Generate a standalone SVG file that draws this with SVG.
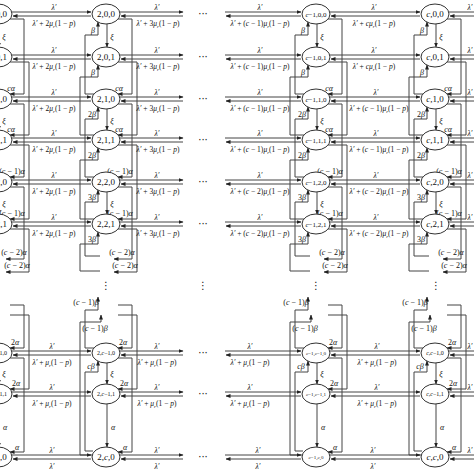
<svg xmlns="http://www.w3.org/2000/svg" xmlns:xlink="http://www.w3.org/1999/xlink" width="474" height="474" viewBox="0 0 474 474">
<defs>
<marker id="ah" viewBox="0 0 10 10" refX="9" refY="5" markerWidth="5" markerHeight="5" markerUnits="userSpaceOnUse" orient="auto"><path d="M0,1L10,5L0,9z" fill="#222"/></marker>
<style>
.c{fill:none;stroke:#444;stroke-width:1}
.a{marker-end:url(#ah)}
.n ellipse{fill:#fff;stroke:#333;stroke-width:1}
text{font-family:"Liberation Serif","Times New Roman",serif;fill:#111}
.t{font-size:9px;text-anchor:middle}
.t7{font-size:7px}
.t6{font-size:6px}
.t5{font-size:5px}
.l{font-size:7.5px;text-anchor:middle}
.m{font-size:8px;text-anchor:middle}
.i{font-style:italic}
.s{font-size:5px;font-style:italic}
.d{font-size:10px;text-anchor:middle;font-family:"DejaVu Sans",sans-serif}
</style>
<text id="lp" class="l"><tspan class="i">λ′</tspan></text>
<text id="L2" class="l"><tspan class="i">λ′</tspan> + 2<tspan class="i">μ</tspan><tspan class="s" dy="1.5">r</tspan><tspan dy="-1.5">(1 − <tspan class="i">p</tspan>)</tspan></text>
<text id="L3" class="l"><tspan class="i">λ′</tspan> + 3<tspan class="i">μ</tspan><tspan class="s" dy="1.5">r</tspan><tspan dy="-1.5">(1 − <tspan class="i">p</tspan>)</tspan></text>
<text id="Lc" class="l"><tspan class="i">λ′</tspan> + <tspan class="i">cμ</tspan><tspan class="s" dy="1.5">r</tspan><tspan dy="-1.5">(1 − <tspan class="i">p</tspan>)</tspan></text>
<text id="Lc1" class="l"><tspan class="i">λ′</tspan> + (<tspan class="i">c</tspan> − 1)<tspan class="i">μ</tspan><tspan class="s" dy="1.5">r</tspan><tspan dy="-1.5">(1 − <tspan class="i">p</tspan>)</tspan></text>
<text id="Lc2" class="l"><tspan class="i">λ′</tspan> + (<tspan class="i">c</tspan> − 2)<tspan class="i">μ</tspan><tspan class="s" dy="1.5">r</tspan><tspan dy="-1.5">(1 − <tspan class="i">p</tspan>)</tspan></text>
<text id="L1" class="l"><tspan class="i">λ′</tspan> + <tspan class="i">μ</tspan><tspan class="s" dy="1.5">r</tspan><tspan dy="-1.5">(1 − <tspan class="i">p</tspan>)</tspan></text>
<g id="rl">
<path class="c a" d="M12,-2H91"/>
<path class="c a" d="M91,2H13"/>
<path class="c a" d="M120,-2H183"/>
<path class="c a" d="M183,2H121"/>
<path class="c a" d="M225,-2H301"/>
<path class="c a" d="M301,2H226"/>
<path class="c a" d="M330,-2H420"/>
<path class="c a" d="M420,2H331"/>
<path class="c" d="M449,-2H476"/>
<path class="c a" d="M476,2H450"/>
<text class="d" x="203" y="3">···</text>
</g>
<g id="tc">
<path class="c a" d="M1,24V47"/>
<path class="c a" d="M1,109V130"/>
<path class="c a" d="M1,192V214"/>
<path class="c a" d="M-12,94H-21V35H-8V22"/>
<path class="c a" d="M-12,135H-26V77H-8V65"/>
<path class="c a" d="M-12,177H-21V119H-8V107"/>
<path class="c a" d="M-12,219H-26V160H-8V148"/>
<path class="c a" d="M-6,256H-21V202H-8V190"/>
<path class="c a" d="M-6,271H-26V244H-8V232"/>
<path class="c a" d="M12,19H26V94H12"/>
<path class="c a" d="M12,62H31V135H12"/>
<path class="c a" d="M12,104H26V177H12"/>
<path class="c a" d="M12,145H31V219H12"/>
<path class="c a" d="M12,187H26V259H8"/>
<path class="c a" d="M12,229H31V272H8"/>
<text class="m i" x="6" y="40">ξ</text>
<text class="m i" x="6" y="124">ξ</text>
<text class="m i" x="6" y="207">ξ</text>
<text class="m i" x="-13" y="33">β</text>
<text class="m i" x="-13" y="75">β</text>
<text class="m" x="-14" y="117">2<tspan class="i">β</tspan></text>
<text class="m" x="-14" y="158">2<tspan class="i">β</tspan></text>
<text class="m" x="-14" y="200">3<tspan class="i">β</tspan></text>
<text class="m" x="-14" y="242">3<tspan class="i">β</tspan></text>
<text class="m i" x="13" y="91">cα</text>
<text class="m i" x="13" y="132">cα</text>
<text class="m t7" x="14" y="174">(<tspan class="i">c</tspan> − 1)<tspan class="i">α</tspan></text>
<text class="m t7" x="14" y="216">(<tspan class="i">c</tspan> − 1)<tspan class="i">α</tspan></text>
<text class="m t7" x="16" y="255">(<tspan class="i">c</tspan> − 2)<tspan class="i">α</tspan></text>
<text class="m t7" x="19" y="268">(<tspan class="i">c</tspan> − 2)<tspan class="i">α</tspan></text>
</g>
<g id="bc">
<path class="c a" d="M12,305H26V348H12"/>
<path class="c a" d="M12,315H31V389H12"/>
<path class="c a" d="M12,358H26V452H12"/>
<path class="c a" d="M1,363V384"/>
<path class="c a" d="M1,404V447"/>
<path class="c a" d="M-12,348H-21V310H-8V297"/>
<path class="c a" d="M-13,455H-26V322H-5V315"/>
<path class="c a" d="M-13,451H-21V372H-8V361"/>
<text class="m" x="17" y="345">2<tspan class="i">α</tspan></text>
<text class="m" x="18" y="386">2<tspan class="i">α</tspan></text>
<text class="m i" x="19" y="450">α</text>
<text class="m i" x="6" y="377">ξ</text>
<text class="m i" x="7" y="430">α</text>
<text class="m t7" x="-20" y="305">(<tspan class="i">c</tspan> − 1)<tspan class="i">β</tspan></text>
<text class="m t7" x="-11" y="331">(<tspan class="i">c</tspan> − 1)<tspan class="i">β</tspan></text>
<text class="m i" x="-15" y="369">cβ</text>
</g>
</defs>

<g id="connectors">
<use xlink:href="#tc" href="#tc" x="-2"/>
<use xlink:href="#tc" href="#tc" x="106"/>
<use xlink:href="#tc" href="#tc" x="316"/>
<use xlink:href="#tc" href="#tc" x="435"/>
<use xlink:href="#bc" href="#bc" x="-2"/>
<use xlink:href="#bc" href="#bc" x="106"/>
<use xlink:href="#bc" href="#bc" x="316"/>
<use xlink:href="#bc" href="#bc" x="435"/>
<use xlink:href="#rl" href="#rl" y="14"/>
<use xlink:href="#rl" href="#rl" y="57"/>
<use xlink:href="#rl" href="#rl" y="99"/>
<use xlink:href="#rl" href="#rl" y="140"/>
<use xlink:href="#rl" href="#rl" y="182"/>
<use xlink:href="#rl" href="#rl" y="224"/>
<use xlink:href="#rl" href="#rl" y="353"/>
<use xlink:href="#rl" href="#rl" y="394"/>
<use xlink:href="#rl" href="#rl" y="457"/>
</g>

<g id="edge-labels">
<use href="#lp" x="54" y="10"/><use href="#L2" x="54" y="26"/>
<use href="#lp" x="157" y="10"/><use href="#L3" x="158" y="26"/>
<use href="#lp" x="260" y="10"/><use href="#Lc1" x="260" y="26"/>
<use href="#lp" x="374" y="10"/><use href="#Lc" x="374" y="26"/>
<use href="#lp" x="470" y="10"/>

<use href="#lp" x="54" y="53"/><use href="#L2" x="54" y="69"/>
<use href="#lp" x="157" y="53"/><use href="#L3" x="158" y="69"/>
<use href="#lp" x="260" y="53"/><use href="#Lc1" x="260" y="69"/>
<use href="#lp" x="374" y="53"/><use href="#Lc" x="374" y="69"/>
<use href="#lp" x="470" y="53"/>

<use href="#lp" x="54" y="95"/><use href="#L2" x="54" y="111"/>
<use href="#lp" x="157" y="95"/><use href="#L3" x="158" y="111"/>
<use href="#lp" x="260" y="95"/><use href="#Lc1" x="260" y="111"/>
<use href="#lp" x="376" y="95"/><use href="#Lc1" x="379" y="111"/>
<use href="#lp" x="470" y="95"/>

<use href="#lp" x="54" y="136"/><use href="#L2" x="54" y="152"/>
<use href="#lp" x="157" y="136"/><use href="#L3" x="158" y="152"/>
<use href="#lp" x="260" y="136"/><use href="#Lc1" x="260" y="152"/>
<use href="#lp" x="376" y="136"/><use href="#Lc1" x="379" y="152"/>
<use href="#lp" x="470" y="136"/>

<use href="#lp" x="54" y="178"/><use href="#L2" x="54" y="194"/>
<use href="#lp" x="157" y="178"/><use href="#L3" x="158" y="194"/>
<use href="#lp" x="260" y="178"/><use href="#Lc2" x="260" y="194"/>
<use href="#lp" x="376" y="178"/><use href="#Lc2" x="379" y="194"/>
<use href="#lp" x="470" y="178"/>

<use href="#lp" x="54" y="220"/><use href="#L2" x="54" y="236"/>
<use href="#lp" x="157" y="220"/><use href="#L3" x="158" y="236"/>
<use href="#lp" x="260" y="220"/><use href="#Lc2" x="260" y="236"/>
<use href="#lp" x="376" y="220"/><use href="#Lc2" x="379" y="236"/>
<use href="#lp" x="470" y="220"/>

<use href="#lp" x="52" y="349"/><use href="#L1" x="52" y="365"/>
<use href="#lp" x="157" y="349"/><use href="#L1" x="157" y="365"/>
<use href="#lp" x="250" y="349"/><use href="#L1" x="250" y="365"/>
<use href="#lp" x="377" y="349"/><use href="#L1" x="377" y="365"/>
<use href="#lp" x="470" y="349"/>

<use href="#lp" x="52" y="390"/><use href="#L1" x="52" y="406"/>
<use href="#lp" x="157" y="390"/><use href="#L1" x="157" y="406"/>
<use href="#lp" x="250" y="390"/><use href="#L1" x="250" y="406"/>
<use href="#lp" x="377" y="390"/><use href="#L1" x="377" y="406"/>
<use href="#lp" x="470" y="390"/>

<use href="#lp" x="52" y="453"/><use href="#lp" x="52" y="469"/>
<use href="#lp" x="157" y="453"/><use href="#lp" x="157" y="469"/>
<use href="#lp" x="258" y="453"/><use href="#lp" x="258" y="469"/>
<use href="#lp" x="373" y="453"/><use href="#lp" x="373" y="469"/>
<use href="#lp" x="470" y="453"/>
</g>

<g id="vdots">
<text class="d" x="106" y="289">⋮</text>
<text class="d" x="203" y="289">⋮</text>
<text class="d" x="316" y="289">⋮</text>
<text class="d" x="436" y="289">⋮</text>
</g>

<g id="n1-0-0" class="n"><ellipse cx="-2" cy="14" rx="14" ry="10"/><text class="t" x="-2" y="17">1,0,0</text></g>
<g id="n1-0-1" class="n"><ellipse cx="-2" cy="57" rx="14" ry="10"/><text class="t" x="-2" y="60">1,0,1</text></g>
<g id="n1-1-0" class="n"><ellipse cx="-2" cy="99" rx="14" ry="10"/><text class="t" x="-2" y="102">1,1,0</text></g>
<g id="n1-1-1" class="n"><ellipse cx="-2" cy="140" rx="14" ry="10"/><text class="t" x="-2" y="143">1,1,1</text></g>
<g id="n1-2-0" class="n"><ellipse cx="-2" cy="182" rx="14" ry="10"/><text class="t" x="-2" y="185">1,2,0</text></g>
<g id="n1-2-1" class="n"><ellipse cx="-2" cy="224" rx="14" ry="10"/><text class="t" x="-2" y="227">1,2,1</text></g>
<g id="n1-c1-0" class="n"><ellipse cx="-2" cy="353" rx="14" ry="10"/><text class="t t6" x="-2" y="355">1,<tspan class="i">c</tspan>−1,0</text></g>
<g id="n1-c1-1" class="n"><ellipse cx="-2" cy="394" rx="14" ry="10"/><text class="t t6" x="-2" y="396">1,<tspan class="i">c</tspan>−1,1</text></g>
<g id="n1-c-0" class="n"><ellipse cx="-2" cy="457" rx="14" ry="10"/><text class="t" x="-2" y="460">1,<tspan class="i">c</tspan>,0</text></g>

<g id="n2-0-0" class="n"><ellipse cx="106" cy="14" rx="14" ry="10"/><text class="t" x="106" y="17">2,0,0</text></g>
<g id="n2-0-1" class="n"><ellipse cx="106" cy="57" rx="14" ry="10"/><text class="t" x="106" y="60">2,0,1</text></g>
<g id="n2-1-0" class="n"><ellipse cx="106" cy="99" rx="14" ry="10"/><text class="t" x="106" y="102">2,1,0</text></g>
<g id="n2-1-1" class="n"><ellipse cx="106" cy="140" rx="14" ry="10"/><text class="t" x="106" y="143">2,1,1</text></g>
<g id="n2-2-0" class="n"><ellipse cx="106" cy="182" rx="14" ry="10"/><text class="t" x="106" y="185">2,2,0</text></g>
<g id="n2-2-1" class="n"><ellipse cx="106" cy="224" rx="14" ry="10"/><text class="t" x="106" y="227">2,2,1</text></g>
<g id="n2-c1-0" class="n"><ellipse cx="106" cy="353" rx="14" ry="10"/><text class="t t6" x="106" y="355">2,<tspan class="i">c</tspan>−1,0</text></g>
<g id="n2-c1-1" class="n"><ellipse cx="106" cy="394" rx="14" ry="10"/><text class="t t6" x="106" y="396">2,<tspan class="i">c</tspan>−1,1</text></g>
<g id="n2-c-0" class="n"><ellipse cx="106" cy="457" rx="14" ry="10"/><text class="t" x="106" y="460">2,<tspan class="i">c</tspan>,0</text></g>

<g id="nc1-0-0" class="n"><ellipse cx="316" cy="14" rx="14" ry="10"/><text class="t t7" x="316" y="16.5"><tspan class="i">c</tspan>−1,0,0</text></g>
<g id="nc1-0-1" class="n"><ellipse cx="316" cy="57" rx="14" ry="10"/><text class="t t7" x="316" y="59.5"><tspan class="i">c</tspan>−1,0,1</text></g>
<g id="nc1-1-0" class="n"><ellipse cx="316" cy="99" rx="14" ry="10"/><text class="t t7" x="316" y="101.5"><tspan class="i">c</tspan>−1,1,0</text></g>
<g id="nc1-1-1" class="n"><ellipse cx="316" cy="140" rx="14" ry="10"/><text class="t t7" x="316" y="142.5"><tspan class="i">c</tspan>−1,1,1</text></g>
<g id="nc1-2-0" class="n"><ellipse cx="316" cy="182" rx="14" ry="10"/><text class="t t7" x="316" y="184.5"><tspan class="i">c</tspan>−1,2,0</text></g>
<g id="nc1-2-1" class="n"><ellipse cx="316" cy="224" rx="14" ry="10"/><text class="t t7" x="316" y="226.5"><tspan class="i">c</tspan>−1,2,1</text></g>
<g id="nc1-c1-0" class="n"><ellipse cx="316" cy="353" rx="14" ry="10"/><text class="t t5" x="316" y="355"><tspan class="i">c</tspan>−1,<tspan class="i">c</tspan>−1,0</text></g>
<g id="nc1-c1-1" class="n"><ellipse cx="316" cy="394" rx="14" ry="10"/><text class="t t5" x="316" y="396"><tspan class="i">c</tspan>−1,<tspan class="i">c</tspan>−1,1</text></g>
<g id="nc1-c-0" class="n"><ellipse cx="316" cy="457" rx="14" ry="10"/><text class="t t5" x="316" y="459"><tspan class="i">c</tspan>−1,<tspan class="i">c</tspan>,0</text></g>

<g id="nc-0-0" class="n"><ellipse cx="435" cy="14" rx="14" ry="10"/><text class="t" x="435" y="17"><tspan class="i">c</tspan>,0,0</text></g>
<g id="nc-0-1" class="n"><ellipse cx="435" cy="57" rx="14" ry="10"/><text class="t" x="435" y="60"><tspan class="i">c</tspan>,0,1</text></g>
<g id="nc-1-0" class="n"><ellipse cx="435" cy="99" rx="14" ry="10"/><text class="t" x="435" y="102"><tspan class="i">c</tspan>,1,0</text></g>
<g id="nc-1-1" class="n"><ellipse cx="435" cy="140" rx="14" ry="10"/><text class="t" x="435" y="143"><tspan class="i">c</tspan>,1,1</text></g>
<g id="nc-2-0" class="n"><ellipse cx="435" cy="182" rx="14" ry="10"/><text class="t" x="435" y="185"><tspan class="i">c</tspan>,2,0</text></g>
<g id="nc-2-1" class="n"><ellipse cx="435" cy="224" rx="14" ry="10"/><text class="t" x="435" y="227"><tspan class="i">c</tspan>,2,1</text></g>
<g id="nc-c1-0" class="n"><ellipse cx="435" cy="353" rx="14" ry="10"/><text class="t t6" x="435" y="355"><tspan class="i">c</tspan>,<tspan class="i">c</tspan>−1,0</text></g>
<g id="nc-c1-1" class="n"><ellipse cx="435" cy="394" rx="14" ry="10"/><text class="t t6" x="435" y="396"><tspan class="i">c</tspan>,<tspan class="i">c</tspan>−1,1</text></g>
<g id="nc-c-0" class="n"><ellipse cx="435" cy="457" rx="14" ry="10"/><text class="t" x="435" y="460"><tspan class="i">c</tspan>,<tspan class="i">c</tspan>,0</text></g>
</svg>
